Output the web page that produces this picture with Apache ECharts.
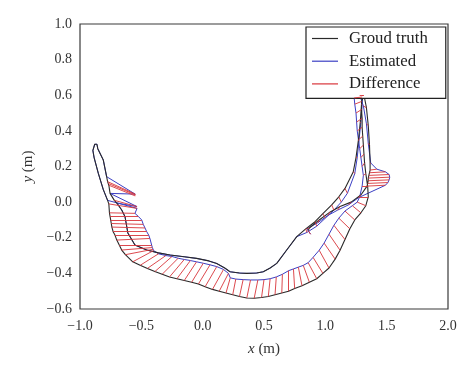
<!DOCTYPE html>
<html><head><meta charset="utf-8">
<script src="https://cdn.jsdelivr.net/npm/echarts/dist/echarts.min.js"></script>
<style>html,body{margin:0;padding:0;background:#fff}#c{width:474px;height:375px}</style>
</head><body><div id="c"></div>
<script>
// Ground truth trajectory (m)
const gtX = [0.86,0.87,0.95,1.04,1.12,1.21,1.29,1.34,1.345,1.35,1.35,1.355,1.36,1.365,1.365,1.36,1.35,1.335,1.315,1.30,1.295,1.295,1.30,1.30,1.305,1.31,1.315,1.32,1.33,1.345,1.35,1.33,1.29,1.24,1.20,1.16,1.12,1.08,1.03,0.98,0.93,0.87,0.81,0.75,0.70,0.645,0.59,0.535,0.48,0.42,0.36,0.30,0.245,0.19,0.135,0.08,0.02,-0.035,-0.09,-0.15,-0.21,-0.27,-0.33,-0.39,-0.45,-0.51,-0.57,-0.63,-0.66,-0.68,-0.70,-0.715,-0.73,-0.74,-0.745,-0.75,-0.755,-0.76,-0.765,-0.775,-0.81,-0.85,-0.885,-0.895,-0.88,-0.862,-0.855,-0.81,-0.783,-0.775,-0.77,-0.765,-0.755,-0.72,-0.70,-0.66,-0.633,-0.61,-0.552,-0.456,-0.36,-0.266,-0.15,-0.049,0.05,0.114,0.18,0.223,0.30,0.36,0.44,0.494,0.55,0.604,0.685,0.767,0.84,0.916,0.98,1.052,1.11,1.16,1.228,1.25,1.27,1.285,1.295,1.30];
const gtY = [-0.16,-0.145,-0.10,-0.055,-0.025,0.00,0.04,0.09,0.105,0.12,0.135,0.15,0.165,0.18,0.22,0.32,0.43,0.53,0.60,0.59,0.565,0.52,0.47,0.42,0.37,0.32,0.27,0.22,0.16,0.09,0.03,-0.02,-0.06,-0.10,-0.15,-0.21,-0.27,-0.32,-0.37,-0.40,-0.43,-0.45,-0.47,-0.485,-0.50,-0.51,-0.52,-0.53,-0.535,-0.54,-0.538,-0.53,-0.52,-0.51,-0.50,-0.49,-0.475,-0.46,-0.45,-0.44,-0.43,-0.42,-0.405,-0.39,-0.372,-0.355,-0.335,-0.295,-0.269,-0.241,-0.213,-0.185,-0.166,-0.14,-0.12,-0.10,-0.08,-0.06,-0.01,0.01,0.07,0.16,0.25,0.29,0.325,0.325,0.30,0.236,0.143,0.115,0.105,0.095,0.049,0.01,-0.005,-0.044,-0.082,-0.173,-0.241,-0.269,-0.285,-0.297,-0.307,-0.316,-0.33,-0.344,-0.37,-0.391,-0.398,-0.40,-0.398,-0.391,-0.37,-0.344,-0.269,-0.194,-0.15,-0.11,-0.065,-0.016,0.03,0.077,0.171,0.25,0.35,0.45,0.55,0.60];
// Estimated trajectory (m), one point per ground-truth point
const estX = [0.88,0.85,0.94,1.02,1.10,1.19,1.27,1.49,1.51,1.52,1.525,1.52,1.49,1.42,1.37,1.35,1.335,1.31,1.28,1.235,1.24,1.25,1.255,1.26,1.27,1.28,1.29,1.30,1.31,1.30,1.28,1.26,1.22,1.16,1.11,1.07,1.03,0.99,0.95,0.90,0.86,0.82,0.78,0.74,0.70,0.65,0.60,0.55,0.50,0.45,0.39,0.33,0.27,0.225,0.21,0.17,0.115,0.06,0.005,-0.05,-0.10,-0.15,-0.20,-0.25,-0.30,-0.36,-0.40,-0.405,-0.41,-0.416,-0.43,-0.44,-0.456,-0.47,-0.484,-0.497,-0.525,-0.552,-0.535,-0.775,-0.81,-0.85,-0.885,-0.895,-0.88,-0.862,-0.855,-0.81,-0.783,-0.55,-0.545,-0.55,-0.755,-0.535,-0.70,-0.66,-0.633,-0.61,-0.552,-0.456,-0.36,-0.266,-0.15,-0.049,0.05,0.114,0.18,0.223,0.30,0.36,0.44,0.494,0.55,0.604,0.685,0.767,0.85,0.93,1.00,1.07,1.13,1.18,1.24,1.26,1.275,1.29,1.30,1.305];
const estY = [-0.18,-0.15,-0.115,-0.075,-0.045,-0.015,0.025,0.095,0.11,0.125,0.14,0.155,0.17,0.185,0.22,0.33,0.44,0.54,0.60,0.585,0.55,0.50,0.45,0.40,0.35,0.30,0.25,0.20,0.15,0.09,0.03,0.00,-0.02,-0.05,-0.09,-0.13,-0.18,-0.23,-0.27,-0.31,-0.34,-0.355,-0.365,-0.375,-0.385,-0.405,-0.42,-0.43,-0.435,-0.437,-0.437,-0.435,-0.432,-0.425,-0.40,-0.378,-0.362,-0.352,-0.343,-0.335,-0.328,-0.322,-0.315,-0.305,-0.30,-0.29,-0.272,-0.265,-0.255,-0.241,-0.204,-0.185,-0.166,-0.145,-0.125,-0.10,-0.08,-0.063,-0.035,0.01,0.07,0.16,0.25,0.29,0.325,0.325,0.30,0.236,0.143,0.045,0.04,0.035,0.049,-0.025,-0.005,-0.044,-0.082,-0.173,-0.241,-0.269,-0.285,-0.297,-0.307,-0.316,-0.33,-0.344,-0.37,-0.391,-0.398,-0.40,-0.398,-0.391,-0.37,-0.344,-0.269,-0.194,-0.17,-0.135,-0.09,-0.045,0.00,0.05,0.16,0.25,0.35,0.45,0.55,0.60];
const seriesNames = ['Groud truth', 'Estimated', 'Difference'];
const seriesColors = ['#2a2a2a', '#3b3fc4', '#d8343a'];
const xRange = [-1.0, 2.0, 0.5];
const yRange = [-0.6, 1.0, 0.2];

const gtData = gtX.map((x, i) => [x, gtY[i]]);
const estData = estX.map((x, i) => [x, estY[i]]);
const diffData = gtX.map((x, i) => ({ coords: [[x, gtY[i]], [estX[i], estY[i]]] }));

const serif = 'Liberation Serif';
const fmt = v => v.toFixed(1).replace('-', '\u2212');
const lineIcon = 'path://M0,0L26,0L26,1.2L0,1.2Z';

const chart = echarts.init(document.getElementById('c'), null, { renderer: 'canvas' });
chart.setOption({
  animation: false,
  backgroundColor: '#fff',
  grid: { left: 80, top: 24, right: 26, bottom: 66, show: true, borderColor: '#3a3a3a', borderWidth: 1.2, backgroundColor: 'transparent' },
  xAxis: {
    type: 'value', min: xRange[0], max: xRange[1], interval: xRange[2],
    axisLine: { show: false }, axisTick: { show: false }, splitLine: { show: false },
    axisLabel: { formatter: fmt, fontFamily: serif, fontSize: 14, color: '#333', margin: 10 },
    name: '{i|x} (m)', nameLocation: 'middle', nameGap: 33,
    nameTextStyle: { fontFamily: serif, fontSize: 15, color: '#333', rich: { i: { fontFamily: serif, fontStyle: 'italic', fontSize: 15, color: '#333' } } }
  },
  yAxis: {
    type: 'value', min: yRange[0], max: yRange[1], interval: yRange[2],
    axisLine: { show: false }, axisTick: { show: false }, splitLine: { show: false },
    axisLabel: { formatter: fmt, fontFamily: serif, fontSize: 14, color: '#333', margin: 8 },
    name: '{i|y} (m)', nameLocation: 'middle', nameGap: 44,
    nameTextStyle: { fontFamily: serif, fontSize: 15, color: '#333', rich: { i: { fontFamily: serif, fontStyle: 'italic', fontSize: 15, color: '#333' } } }
  },
  legend: {
    orient: 'vertical', left: 306, top: 27,
    backgroundColor: '#fff', borderColor: '#222', borderWidth: 1.2, borderRadius: 0,
    padding: [3, 18, 6, 6], itemGap: 5.7, itemWidth: 26, itemHeight: 16,
    textStyle: { fontFamily: serif, fontSize: 16.8, color: '#222', lineHeight: 16, padding: [0, 0, 0, 6] },
    data: seriesNames.map((n, i) => ({ name: n, icon: lineIcon,
      itemStyle: { color: seriesColors[i], borderWidth: 0, borderColor: 'transparent' } }))
  },
  series: [
    { name: seriesNames[1], type: 'line', data: estData, symbol: 'none', showSymbol: false, z: 2,
      color: seriesColors[1], itemStyle: { color: seriesColors[1] }, lineStyle: { color: seriesColors[1], width: 1 } },
    { name: seriesNames[0], type: 'line', data: gtData, symbol: 'none', showSymbol: false, z: 3,
      color: seriesColors[0], itemStyle: { color: seriesColors[0] }, lineStyle: { color: seriesColors[0], width: 1.1 } },
    { name: seriesNames[2], type: 'lines', coordinateSystem: 'cartesian2d', data: diffData, z: 4,
      color: seriesColors[2], itemStyle: { color: seriesColors[2] }, lineStyle: { color: seriesColors[2], width: 0.9, opacity: 1 } }
  ]
});
</script></body></html>
